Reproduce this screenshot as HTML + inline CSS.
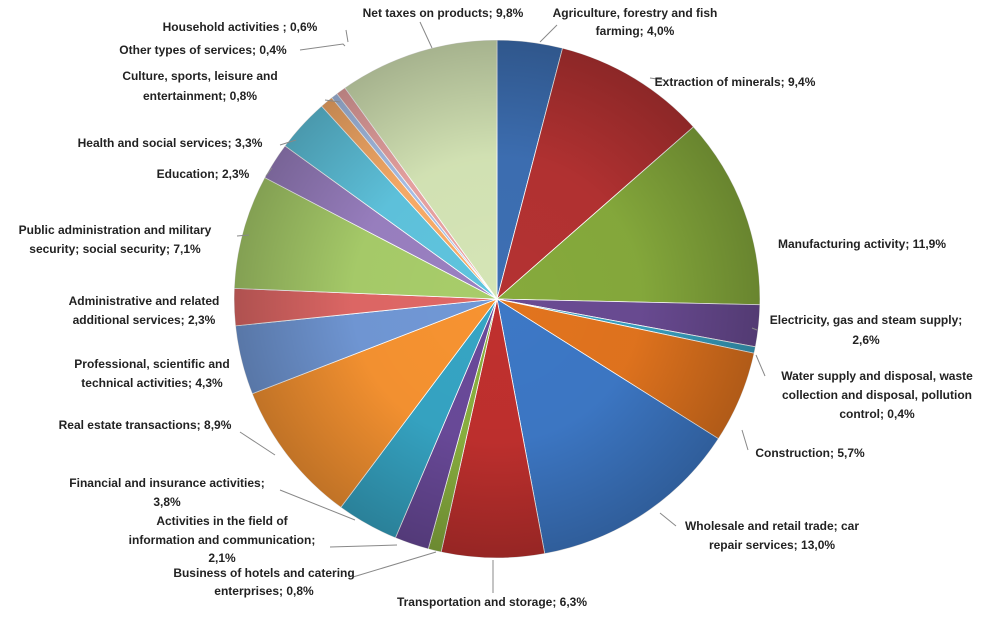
<!DOCTYPE html>
<html><head><meta charset="utf-8"><style>
html,body{margin:0;padding:0;background:#fff;}
svg text{font-family:"Liberation Sans",sans-serif;font-weight:bold;font-size:12px;fill:#222;}
</style></head><body>
<svg id="s" width="991" height="612" xmlns="http://www.w3.org/2000/svg">
<defs>
<radialGradient id="sh" cx="0.5" cy="0.5" r="0.5">
<stop offset="0" stop-color="#000" stop-opacity="0"/>
<stop offset="0.55" stop-color="#000" stop-opacity="0.02"/>
<stop offset="1" stop-color="#000" stop-opacity="0.22"/>
</radialGradient>
</defs>
<g id="pie"></g>
<ellipse cx="497" cy="299" rx="263" ry="259" fill="url(#sh)"/>
<g stroke="#888" stroke-width="1" fill="none">
<path d="M420 22 L432 48"/>
<path d="M557 25 L540 42"/>
<path d="M664 80 L650 78"/>
<path d="M346 30 L348 42"/>
<path d="M300 50 L343 44 L345 46"/>
<path d="M325 100 L340 102"/>
<path d="M280 145 L296 140"/>
<path d="M266 176 L272 168"/>
<path d="M237 236 L249 235"/>
<path d="M757 330 L752 328"/>
<path d="M765 376 L756 355"/>
<path d="M748 450 L742 430"/>
<path d="M676 526 L660 513"/>
<path d="M493 593 L493 560"/>
<path d="M353 577 L436 552"/>
<path d="M330 547 L397 545"/>
<path d="M280 490 L355 520"/>
<path d="M240 432 L275 455"/>
</g>
<g text-anchor="middle">
<text x="443" y="17">Net taxes on products; 9,8%</text>
<text x="635" y="17">Agriculture, forestry and fish</text>
<text x="635" y="35">farming; 4,0%</text>
<text x="735" y="86">Extraction of minerals; 9,4%</text>
<text x="862" y="248">Manufacturing activity; 11,9%</text>
<text x="866" y="324">Electricity, gas and steam supply;</text>
<text x="866" y="344">2,6%</text>
<text x="877" y="380">Water supply and disposal, waste</text>
<text x="877" y="399">collection and disposal, pollution</text>
<text x="877" y="418">control; 0,4%</text>
<text x="810" y="457">Construction; 5,7%</text>
<text x="772" y="530">Wholesale and retail trade; car</text>
<text x="772" y="549">repair services; 13,0%</text>
<text x="492" y="606">Transportation and storage; 6,3%</text>
<text x="264" y="577">Business of hotels and catering</text>
<text x="264" y="595">enterprises; 0,8%</text>
<text x="222" y="525">Activities in the field of</text>
<text x="222" y="544">information and communication;</text>
<text x="222" y="562">2,1%</text>
<text x="167" y="487">Financial and insurance activities;</text>
<text x="167" y="506">3,8%</text>
<text x="145" y="429">Real estate transactions; 8,9%</text>
<text x="152" y="368">Professional, scientific and</text>
<text x="152" y="387">technical activities; 4,3%</text>
<text x="144" y="305">Administrative and related</text>
<text x="144" y="324">additional services; 2,3%</text>
<text x="115" y="234">Public administration and military</text>
<text x="115" y="253">security; social security; 7,1%</text>
<text x="203" y="178">Education; 2,3%</text>
<text x="170" y="147">Health and social services; 3,3%</text>
<text x="200" y="80">Culture, sports, leisure and</text>
<text x="200" y="100">entertainment; 0,8%</text>
<text x="203" y="54">Other types of services; 0,4%</text>
<text x="240" y="31">Household activities ; 0,6%</text>
</g>
</svg>
<script>
var v=[4.0,9.4,11.9,2.6,0.4,5.7,13.0,6.3,0.8,2.1,3.8,8.9,4.3,2.3,7.1,2.3,3.3,0.8,0.4,0.6,9.8];
var c=["#3d6fb3","#b43232","#86aa3c","#6a4b93","#39a0c0","#e2741e","#3d78c6","#c0302e","#8ab03f","#6a4a9a","#36a5c4","#f79331","#7198d6","#e06866","#a8cd6a","#9a80c1","#5fc4de","#f9ac68","#a8c0e8","#e9a3a2","#d5e5b6"];
var tot=v.reduce(function(a,b){return a+b},0);
var cx=497,cy=299,rx=263,ry=259,a=-Math.PI/2,h="";
for(var i=0;i<v.length;i++){
 var b=a+v[i]/tot*2*Math.PI;
 var x1=cx+rx*Math.cos(a),y1=cy+ry*Math.sin(a),x2=cx+rx*Math.cos(b),y2=cy+ry*Math.sin(b);
 var lg=(b-a)>Math.PI?1:0;
 h+='<path d="M'+cx+' '+cy+' L'+x1.toFixed(2)+' '+y1.toFixed(2)+' A'+rx+' '+ry+' 0 '+lg+' 1 '+x2.toFixed(2)+' '+y2.toFixed(2)+' Z" fill="'+c[i]+'" stroke="#fff" stroke-width="0.8"/>';
 a=b;
}
document.getElementById("pie").innerHTML=h;
</script>
</body></html>
